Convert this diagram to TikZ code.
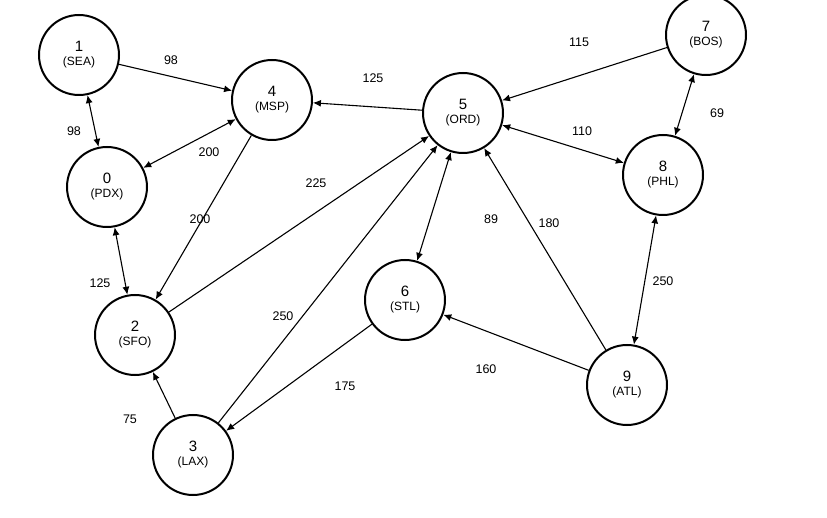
\documentclass[tikz,border=0pt]{standalone}
\usepackage{fontspec}
\setmainfont{Liberation Sans}
\usetikzlibrary{arrows.meta}
\begin{document}
\begin{tikzpicture}[x=1pt,y=-1pt,
  city/.style={circle,draw,line width=2pt,minimum size=80pt,inner sep=0pt,align=center,font=\fontsize{15}{16}\selectfont},
  lbl/.style={font=\fontsize{12.5}{13}\selectfont},
  edge/.style={line width=1.1pt,-{Latex[length=8pt,width=7pt]}},
  bi/.style={line width=1.1pt,{Latex[length=8pt,width=7pt]}-{Latex[length=8pt,width=7pt]}}]
\useasboundingbox (0,0) rectangle (827,518);
\newcommand{\cty}[2]{#1\\[-2pt]{\fontsize{12}{13}\selectfont(#2)}}
\node[city] (n1) at (79,55) {\cty{1}{SEA}};
\node[city] (n4) at (272,100) {\cty{4}{MSP}};
\node[city] (n0) at (107,187) {\cty{0}{PDX}};
\node[city] (n2) at (135,335) {\cty{2}{SFO}};
\node[city] (n3) at (193,455) {\cty{3}{LAX}};
\node[city] (n5) at (463,113) {\cty{5}{ORD}};
\node[city] (n6) at (405,300) {\cty{6}{STL}};
\node[city] (n7) at (706,35) {\cty{7}{BOS}};
\node[city] (n8) at (663,175) {\cty{8}{PHL}};
\node[city] (n9) at (627,385) {\cty{9}{ATL}};
\draw[edge] (n1) -- (n4);
\draw[bi] (n1) -- (n0);
\draw[bi] (n0) -- (n4);
\draw[edge] (n4) -- (n2);
\draw[bi] (n0) -- (n2);
\draw[edge] (n2) -- (n5);
\draw[edge] (n3) -- (n2);
\draw[edge] (n3) -- (n5);
\draw[edge] (n6) -- (n3);
\draw[bi] (n5) -- (n6);
\draw[edge] (n5) -- (n4);
\draw[edge] (n7) -- (n5);
\draw[bi] (n5) -- (n8);
\draw[bi] (n7) -- (n8);
\draw[edge] (n9) -- (n5);
\draw[edge] (n9) -- (n6);
\draw[bi] (n8) -- (n9);
\node[lbl] (l1) at (171,60) {98};
\node[lbl] (l2) at (74,131) {98};
\node[lbl] (l3) at (209,152) {200};
\node[lbl] (l4) at (200,219) {200};
\node[lbl] (l5) at (100,283) {125};
\node[lbl] (l6) at (316,183) {225};
\node[lbl] (l7) at (130,419) {75};
\node[lbl] (l8) at (283,316) {250};
\node[lbl] (l9) at (345,386) {175};
\node[lbl] (l10) at (491,219) {89};
\node[lbl] (l11) at (373,78) {125};
\node[lbl] (l12) at (579,42) {115};
\node[lbl] (l13) at (582,131) {110};
\node[lbl] (l14) at (717,113) {69};
\node[lbl] (l15) at (549,223) {180};
\node[lbl] (l16) at (486,369) {160};
\node[lbl] (l17) at (663,281) {250};
\end{tikzpicture}
\end{document}
